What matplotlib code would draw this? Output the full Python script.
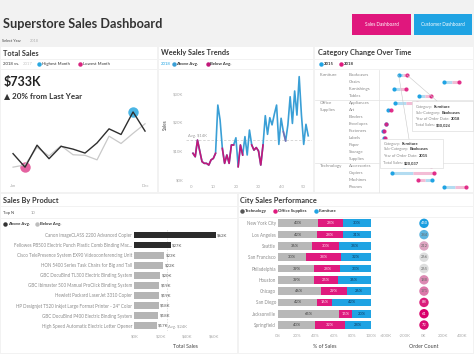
import numpy as np
import matplotlib
matplotlib.use("Agg")
import matplotlib.pyplot as plt
from matplotlib.patches import Rectangle
from matplotlib.colors import LinearSegmentedColormap, TwoSlopeNorm, to_rgb, to_hex
from matplotlib.transforms import blended_transform_factory

plt.rcParams['font.family'] = ['Lato', 'DejaVu Sans']

W, H, DPI = 474, 354, 100

# ---------------- data ----------------
months = ["Jan", "Feb", "Mar", "Apr", "May", "Jun", "Jul", "Aug", "Sep", "Oct", "Nov", "Dec"]
sales_2018 = [44, 20, 59, 35, 57, 52, 45, 63, 88, 78, 118, 84]
sales_2017 = [20, 24, 55, 40, 58, 42, 41, 33, 75, 62, 80, 97]
total_label = "$733K"
change_label = "▲ 20% from Last Year"

weekly_sales = [9.2, 8.0, 13.8, 10.0, 6.3, 5.7, 5.7, 5.1, 6.9, 7.4, 9.2, 26.0, 20.8,
                10.9, 5.7, 8.6, 5.7, 12.1, 12.1, 14.6, 4.5, 12.1, 8.6, 15.0, 8.6, 17.3,
                12.1, 10.3, 11.2, 10.0, 5.1, 12.1, 22.3, 15.8, 21.6, 19.1, 22.8, 26.0,
                12.3, 21.4, 16.7, 13.5, 19.1, 28.9, 19.6, 30.9, 22.5, 35.9, 22.5, 12.3,
                19.3, 15.3]
weekly_avg = 14
week_ticks = [0, 10, 20, 30, 40, 50]
sales_ticks = [0, 10, 20, 30]
sales_tick_labels = ["$0K", "$10K", "$20K", "$30K"]

categories = ["Furniture"] * 4 + ["Office Supplies"] * 9 + ["Technology"] * 4
subcategories = ["Bookcases", "Chairs", "Furnishings", "Tables", "Appliances", "Art",
                 "Binders", "Envelopes", "Fasteners", "Labels", "Paper", "Storage",
                 "Supplies", "Accessories", "Copiers", "Machines", "Phones"]
sub_sales_2015 = [20.037, 75, 14.3, 44.8, 15.9, 7.1, 46, 4.5, 1.5, 2.5, 15, 50, 5, 26, 12, 60.1, 75]
sub_sales_2018 = [30.024, 92.3, 28.8, 59.3, 42, 10.4, 72, 5.0, 1.8, 3.5, 20, 70, 15, 59, 62.2, 43.3, 101.5]

products = ["Canon imageCLASS 2200 Advanced Copier",
            "Fellowes PB500 Electric Punch Plastic Comb Binding Mac...",
            "Cisco TelePresence System EX90 Videoconferencing Unit",
            "HON 5400 Series Task Chairs for Big and Tall",
            "GBC DocuBind TL300 Electric Binding System",
            "GBC Ibimaster 500 Manual ProClick Binding System",
            "Hewlett Packard LaserJet 3310 Copier",
            "HP Designjet T520 Inkjet Large Format Printer - 24\" Color",
            "GBC DocuBind P400 Electric Binding System",
            "High Speed Automatic Electric Letter Opener"]
product_sales = [61.60, 27.45, 22.64, 21.87, 19.82, 19.02, 18.84, 18.38, 17.97, 17.03]
product_ticks = [0, 20, 40, 60]

cities = ["New York City", "Los Angeles", "Seattle", "San Francisco", "Philadelphia",
          "Houston", "Chicago", "San Diego", "Jacksonville", "Springfield"]
tech_pct = [43, 42, 36, 30, 39, 39, 46, 42, 65, 40]
office_pct = [28, 28, 30, 38, 28, 25, 29, 16, 15, 32]
furn_pct = [30, 31, 34, 32, 33, 36, 26, 42, 20, 28]
order_count = [450, 384, 212, 266, 265, 188, 171, 88, 61, 72]
pct_ticks = [0, 20, 40, 60, 80, 100]
order_ticks = [-400, -200, 0, 200, 400]

# ---------------- colours ----------------
MAG = '#df1a7e'
BLUE = '#1fa3e3'
DARK = '#333333'
GREY_T = '#9a9a9a'
W_BLUE = '#3a9fd6'
W_MAG = '#c2187a'

fig = plt.figure(figsize=(W / DPI, H / DPI), dpi=DPI)
fig.patch.set_facecolor('#f2f2f2')
bg = fig.add_axes([0, 0, 1, 1], zorder=0)
bg.set_xlim(0, W); bg.set_ylim(H, 0); bg.axis('off')
ov = fig.add_axes([0, 0, 1, 1], zorder=10)
ov.set_xlim(0, W); ov.set_ylim(H, 0); ov.axis('off')


def rect(ax, x0, y0, x1, y1, fc='white', ec='none', lw=0.0, z=0):
    ax.add_patch(Rectangle((x0, y0), x1 - x0, y1 - y0, facecolor=fc, edgecolor=ec, lw=lw, zorder=z))


def px_axes(x0, y0, x1, y1, z=2):
    ax = fig.add_axes([x0 / W, 1 - y1 / H, (x1 - x0) / W, (y1 - y0) / H], zorder=z)
    ax.set_facecolor('none')
    for s in ax.spines.values():
        s.set_visible(False)
    ax.tick_params(length=0, labelsize=3.3, colors=GREY_T)
    return ax


def T(x, y, s, fs=3.3, c=DARK, ax=None, **kw):
    ax = ax or bg
    kw.setdefault('va', 'center')
    return ax.text(x, y, s, fontsize=fs, color=c, **kw)


def dot(x, y, c, ms=3.2, ax=None):
    (ax or bg).plot([x], [y], 'o', ms=ms, color=c, mec='none')


# ---------------- panels ----------------
for x0, x1 in [(1, 157), (159, 313), (315, 473)]:
    rect(bg, x0, 47, x1, 58.5)
    rect(bg, x0, 59.5, x1, 68.5)
    rect(bg, x0, 69.5, x1, 192)
rect(bg, 1, 194, 237, 206); rect(bg, 1, 207, 237, 218); rect(bg, 1, 219, 237, 353)
rect(bg, 239, 194, 473, 206); rect(bg, 239, 207, 473, 216.5); rect(bg, 239, 217.5, 473, 353)

# ---------------- header ----------------
T(3, 24, "Superstore Sales Dashboard", fs=9.2, fontweight='bold')
T(2, 41, "Select Year", fs=2.8, c='#444')
T(30, 41, "2018", fs=2.8, c='#b0b0b0')
rect(bg, 352, 14, 411, 35, fc='#e0177d')
T(381.5, 24.5, "Sales Dashboard", fs=3.3, c='white', ha='center')
rect(bg, 414, 14, 472, 35, fc=BLUE)
T(443, 24.5, "Customer Dashboard", fs=3.3, c='white', ha='center')

# ---------------- Total Sales ----------------
T(3.3, 53, "Total Sales", fs=5.3, fontweight='bold', c='#3a3a3a')
T(3.3, 64, "2018 vs.", fs=3.1)
T(22.5, 64, "2017", fs=3.1, c='#c8c8c8')
dot(39.3, 64, '#2aa8e0'); T(42.3, 64, "Highest Month", fs=3.1)
dot(80.3, 64, '#d8237f'); T(83.5, 64, "Lowest Month", fs=3.1)
T(3.3, 82, total_label, fs=9, fontweight='bold', c='#222')
T(4, 95.5, change_label, fs=5.8, fontweight='bold', c='#333')

a1 = px_axes(5, 100, 152, 180)
xm = np.arange(len(months))
a1.plot(xm, sales_2017, color='#c9c9c9', lw=0.9, zorder=2)
a1.plot(xm, sales_2018, color='#2e2e2e', lw=1.0, zorder=3)
hi = int(np.argmax(sales_2018)); lo = int(np.argmin(sales_2018))
a1.plot([hi], [sales_2018[hi]], 'o', ms=7.5, color='#2aa8e0', alpha=0.85, mec='none', zorder=1)
a1.plot([lo], [sales_2018[lo]], 'o', ms=7.5, color='#e0478f', alpha=0.85, mec='none', zorder=1)
a1.set_xlim(-0.67, 11.58); a1.set_ylim(-2.8, 139.2)
a1.set_xticks([0, 11]); a1.set_xticklabels([months[0], months[-1]])
a1.set_yticks([])
a1.tick_params(axis='x', labelsize=3.1, colors='#aaaaaa', pad=2.6)

# ---------------- Weekly Sales Trends ----------------
T(161, 53, "Weekly Sales Trends", fs=5.3, fontweight='bold', c='#3a3a3a')
T(161, 64, "2018", fs=3.1, c=BLUE)
dot(173.7, 64, W_BLUE); T(176.3, 64, "Above Avg.", fs=3.1, fontweight='bold')
dot(207.7, 64, W_MAG); T(210.3, 64, "Below Avg.", fs=3.1, fontweight='bold')
T(165, 125, "Sales", fs=3.4, c='#444', rotation=90, ha='center')

a2 = px_axes(186, 72, 312, 182, z=3)
wy = np.asarray(weekly_sales, dtype=float)
wx = np.arange(1, len(wy) + 1)
# whole series in blue, the part that sits below the average overlaid in magenta
a2.plot(wx, wy, color=W_BLUE, lw=1.2, zorder=3, solid_joinstyle='round')
w_low = np.where(wy < weekly_avg, wy, np.nan)
a2.plot(wx, w_low, color=W_MAG, lw=1.2, zorder=4, solid_joinstyle='round')
w_mid = np.where((wy >= weekly_avg - 1.5) & (wy <= weekly_avg + 3.5), wy, np.nan)
a2.plot(wx, w_mid, color='#8a5aa6', lw=1.2, zorder=4, alpha=0.7, solid_joinstyle='round')
a2.axhline(weekly_avg, ls=(0, (3, 2)), color='#d0d0d0', lw=0.6, zorder=1)
a2.text(wx[0] - 2.2, weekly_avg + 1.25, f"Avg. ${weekly_avg}K", fontsize=3.0, color='#9a9a9a', va='center')
a2.set_xlim(wx[0] - 3.08, wx[-1] + 1.67)
a2.set_ylim(min(0.0, float(wy.min())) - 0.8, float(wy.max()) * 1.045)
a2.set_xticks(week_ticks); a2.set_yticks(sales_ticks); a2.set_yticklabels(sales_tick_labels)
a2.tick_params(axis='both', pad=2.0, labelsize=3.1, colors='#aaaaaa')

# ---------------- Category Change Over Time ----------------
T(318.5, 53, "Category Change Over Time", fs=5.3, fontweight='bold', c='#3a3a3a')
dot(321.3, 64, BLUE); T(324, 64, "2015", fs=3.1, fontweight='bold')
dot(341, 64, MAG); T(343.7, 64, "2018", fs=3.1, fontweight='bold')

a3 = px_axes(379, 71, 471, 191)
rows = np.arange(len(subcategories))
for i in rows:
    v15, v18 = sub_sales_2015[i], sub_sales_2018[i]
    mid = (v15 + v18) / 2
    a3.plot([v15, mid], [i, i], color='#b3dcf1', lw=2.2, solid_capstyle='butt', zorder=1)
    a3.plot([mid, v18], [i, i], color='#f3bcd5', lw=2.2, solid_capstyle='butt', zorder=1)
a3.scatter(sub_sales_2015, rows, s=9, color=BLUE, zorder=3, lw=0)
a3.scatter(sub_sales_2018, rows, s=9, color=MAG, zorder=3, lw=0, alpha=0.9)
a3.set_xlim(-3.7, 107.1); a3.set_ylim(16.53, -0.57)
a3.set_xticks([]); a3.set_yticks([])
bt = blended_transform_factory(bg.transData, a3.transData)
seen = {}
for i, (cat, sub) in enumerate(zip(categories, subcategories)):
    bg.text(348.7, i, sub, fontsize=3.2, color='#8a8a8a', va='center', transform=bt)
    if cat not in seen:
        seen[cat] = i
        for k, word in enumerate(cat.split(' ')):
            bg.text(320, i + k, word, fontsize=3.2, color='#8a8a8a', va='center', transform=bt)
        if i > 0:
            bg.plot([315, 473], [i - 0.5, i - 0.5], color='#e2e2e2', lw=0.5, transform=bt)
bg.plot([378.7, 378.7], [70, 192], color='#e2e2e2', lw=0.5)

# tooltips
renderer = fig.canvas.get_renderer()


def two_part(x, y, a, b, fs=2.9):
    t1 = ov.text(x, y, a, fontsize=fs, color='#8a8a8a', va='center', zorder=12)
    wpx = t1.get_window_extent(renderer=renderer).width
    ov.text(x + wpx + 0.8, y, b, fontsize=fs, color='#333', va='center', fontweight='bold', zorder=12)


def data_to_px(ax, x, y):
    dx, dy = ax.transData.transform((x, y))
    return dx, H - dy


for (bx0, by0, bx1, by1, year, val, lines_y, anchor) in [
        (412, 101, 473, 131, 2018, sub_sales_2018[0], [106.7, 112.7, 119, 125], 437),
        (380, 139, 443, 168, 2015, sub_sales_2015[0], [143.7, 149.3, 156, 163], 409)]:
    px_, py_ = data_to_px(a3, val, 0)
    ov.plot([px_, anchor], [py_, by0], color='#c8c8c8', lw=0.4, zorder=11)
    rect(ov, bx0, by0, bx1, by1, fc='white', ec='#d6d6d6', lw=0.4, z=11)
    tx = bx0 + 3.4
    two_part(tx, lines_y[0], "Category:", categories[0])
    two_part(tx, lines_y[1], "Sub-Category:", subcategories[0])
    two_part(tx, lines_y[2], "Year of Order Date:", str(year))
    two_part(tx, lines_y[3], "Total Sales:", f"${val * 1000:,.0f}")

# ---------------- Sales By Product ----------------
T(3, 200, "Sales By Product", fs=5.3, fontweight='bold', c='#3a3a3a')
T(3, 212.7, "Top N", fs=3.0, c='#444')
T(31, 212.7, "10", fs=3.0, c='#999')
dot(4.7, 223.7, '#333333'); T(7.8, 223.7, "Above Avg.", fs=3.1, fontweight='bold')
dot(37.3, 223.7, '#bdbdbd'); T(40.4, 223.7, "Below Avg.", fs=3.1, fontweight='bold')

a4 = px_axes(134.3, 229, 232, 331)
p_avg = float(np.mean(product_sales))
prow = np.arange(len(products))
pcols = ['#2b2b2b' if v > p_avg else '#b5b5b5' for v in product_sales]
a4.barh(prow, product_sales, height=0.66, color=pcols, zorder=2)
for i, v in enumerate(product_sales):
    a4.text(v + 1.0, i, f"${v:.0f}K", fontsize=3.2, color='#555', va='center')
a4.axvline(p_avg, color='#d4d4d4', ls=(0, (2, 2)), lw=0.5, zorder=1)
a4.text(p_avg + 0.8, 9.15, f"Avg. ${p_avg:.0f}K", fontsize=3.0, color='#9a9a9a', va='center')
a4.set_xlim(0, 74); a4.set_ylim(9.53, -0.6)
a4.set_yticks(prow); a4.set_yticklabels(products)
a4.set_xticks(product_ticks); a4.set_xticklabels([f"${t}K" for t in product_ticks])
a4.tick_params(axis='y', pad=1.6, labelsize=3.25, colors='#8a8a8a')
a4.tick_params(axis='x', pad=2.5, labelsize=3.2, colors='#aaaaaa')
T(185, 346.7, "Total Sales", fs=3.8, c='#444', ha='center')

# ---------------- City Sales Performance ----------------
T(240, 200, "City Sales Performance", fs=5.3, fontweight='bold', c='#3a3a3a')
dot(241.7, 211.3, '#555555'); T(244.5, 211.3, "Technology", fs=3.1, fontweight='bold')
dot(275, 211.3, MAG); T(277.8, 211.3, "Office Supplies", fs=3.1, fontweight='bold')
dot(316, 211.3, BLUE); T(318.8, 211.3, "Furniture", fs=3.1, fontweight='bold')

a5 = px_axes(278.3, 217, 371, 331)
crow = np.arange(len(cities))
tot = np.array(tech_pct) + np.array(office_pct) + np.array(furn_pct)
left = np.zeros(len(cities))
for vals, col, tc in [(tech_pct, '#b8b8b8', '#444'), (office_pct, MAG, '#fde3ef'), (furn_pct, BLUE, '#0f3a60')]:
    wdt = np.array(vals) / tot * 100
    a5.barh(crow, wdt, left=left, height=0.68, color=col)
    for i in crow:
        a5.text(left[i] + wdt[i] / 2, i, f"{vals[i]}%", fontsize=3.0, color=tc, ha='center', va='center')
    left = left + wdt
a5.set_xlim(0, 100); a5.set_ylim(9.53, -0.56)
a5.set_yticks(crow); a5.set_yticklabels(cities)
a5.set_xticks(pct_ticks); a5.set_xticklabels([f"{t}%" for t in pct_ticks])
a5.tick_params(axis='y', pad=1.6, labelsize=3.25, colors='#8a8a8a')
a5.tick_params(axis='x', pad=2.5, labelsize=3.2, colors='#aaaaaa')
T(324.6, 346.7, "% of Sales", fs=3.8, c='#444', ha='center')

a6 = px_axes(376, 217, 472, 331)
cm_o = LinearSegmentedColormap.from_list('o', ['#d9006c', '#dedede', '#1a9ee0'])
onorm = TwoSlopeNorm(vmin=60, vcenter=265, vmax=450)
ocols = [cm_o(onorm(v)) for v in order_count]
a6.scatter(np.zeros(len(order_count)), crow, s=46, c=ocols, lw=0, zorder=3)
for i, v in enumerate(order_count):
    r, g, b = to_rgb(ocols[i])
    lum = 0.299 * r + 0.587 * g + 0.114 * b
    a6.text(0, i, str(v), fontsize=2.9, color='white' if lum < 0.6 else '#6a6a6a',
            ha='center', va='center', zorder=4)
a6.set_xlim(-500, 500); a6.set_ylim(9.53, -0.56)
a6.set_yticks([])
a6.set_xticks(order_ticks); a6.set_xticklabels([f"{t}K" for t in order_ticks])
a6.tick_params(axis='x', pad=2.5, labelsize=3.2, colors='#aaaaaa')
T(424, 346.7, "Order Count", fs=3.8, c='#444', ha='center')

fig.savefig("out.png", dpi=DPI, facecolor=fig.get_facecolor())
